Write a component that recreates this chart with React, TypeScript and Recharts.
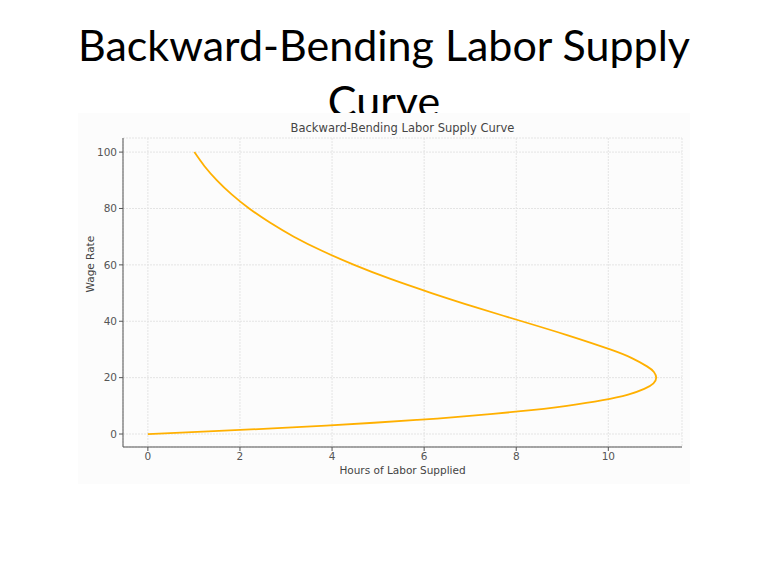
import { LineChart, Line, XAxis, YAxis, CartesianGrid } from "recharts";

// wage rate levels read along the curve, and the hours supplied at each
const WAGES = [0, 1, 2, 3, 4, 5, 6, 8, 10, 12, 14, 16, 18, 20, 22, 24, 27, 30, 35, 40, 45, 50, 55, 60, 65, 70, 75, 80, 85, 90, 95, 100];
const HOURS = [0, 1.43, 2.71, 3.87, 4.91, 5.84, 6.67, 8.04, 9.1, 9.88, 10.43, 10.78, 10.98, 11.04, 10.99, 10.84, 10.5, 10.04, 9.12, 8.12, 7.11, 6.16, 5.27, 4.48, 3.78, 3.17, 2.65, 2.2, 1.82, 1.5, 1.23, 1.01];

const X_TICKS = [0, 2, 4, 6, 8, 10];
const Y_TICKS = [0, 20, 40, 60, 80, 100];

const data = WAGES.map((w, i) => ({ hours: HOURS[i], wage: w }));

const tickStyle = { fill: "#555", fontSize: 10.5, fontFamily: "DejaVu Sans" };

export default function App() {
  return (
    <div style={{ position: "absolute", left: 0, top: 0, width: 768, height: 576, background: "#fff", overflow: "hidden" }}>
      <div
        style={{
          position: "absolute",
          left: 54,
          top: 17,
          width: 660,
          textAlign: "center",
          fontFamily: "Lato",
          fontSize: 43,
          lineHeight: "56px",
          color: "#000",
        }}
      >
        Backward-Bending Labor Supply Curve
      </div>
      <div style={{ position: "absolute", left: 78, top: 113, width: 612, height: 371, background: "#fcfcfc" }}>
        <div
          style={{
            position: "absolute",
            left: 45,
            width: 559,
            top: 8,
            textAlign: "center",
            fontFamily: "DejaVu Sans",
            fontSize: 11.5,
            color: "#444",
          }}
        >
          Backward-Bending Labor Supply Curve
        </div>
        <LineChart width={612} height={371} data={data} margin={{ top: 25, right: 8, left: 0, bottom: 0 }}>
          <CartesianGrid stroke="#e4e4e4" strokeDasharray="2 1" />
          <XAxis
            dataKey="hours"
            type="number"
            domain={[-0.54, 11.6]}
            ticks={X_TICKS}
            allowDataOverflow
            height={37}
            stroke="#555"
            tickSize={4}
            tick={tickStyle}
            label={{ value: "Hours of Labor Supplied", position: "insideBottom", offset: 10, fill: "#444", fontSize: 10.5, fontFamily: "DejaVu Sans" }}
          />
          <YAxis
            type="number"
            domain={[-4.6, 105]}
            ticks={Y_TICKS}
            allowDataOverflow
            width={45}
            stroke="#555"
            tickSize={4}
            tick={tickStyle}
            label={{ value: "Wage Rate", angle: -90, position: "insideLeft", offset: 12, fill: "#444", fontSize: 10.5, fontFamily: "DejaVu Sans" }}
          />
          <Line
            dataKey="wage"
            type="natural"
            stroke="#ffb000"
            strokeWidth={1.8}
            dot={false}
            isAnimationActive={false}
          />
        </LineChart>
      </div>
    </div>
  );
}
